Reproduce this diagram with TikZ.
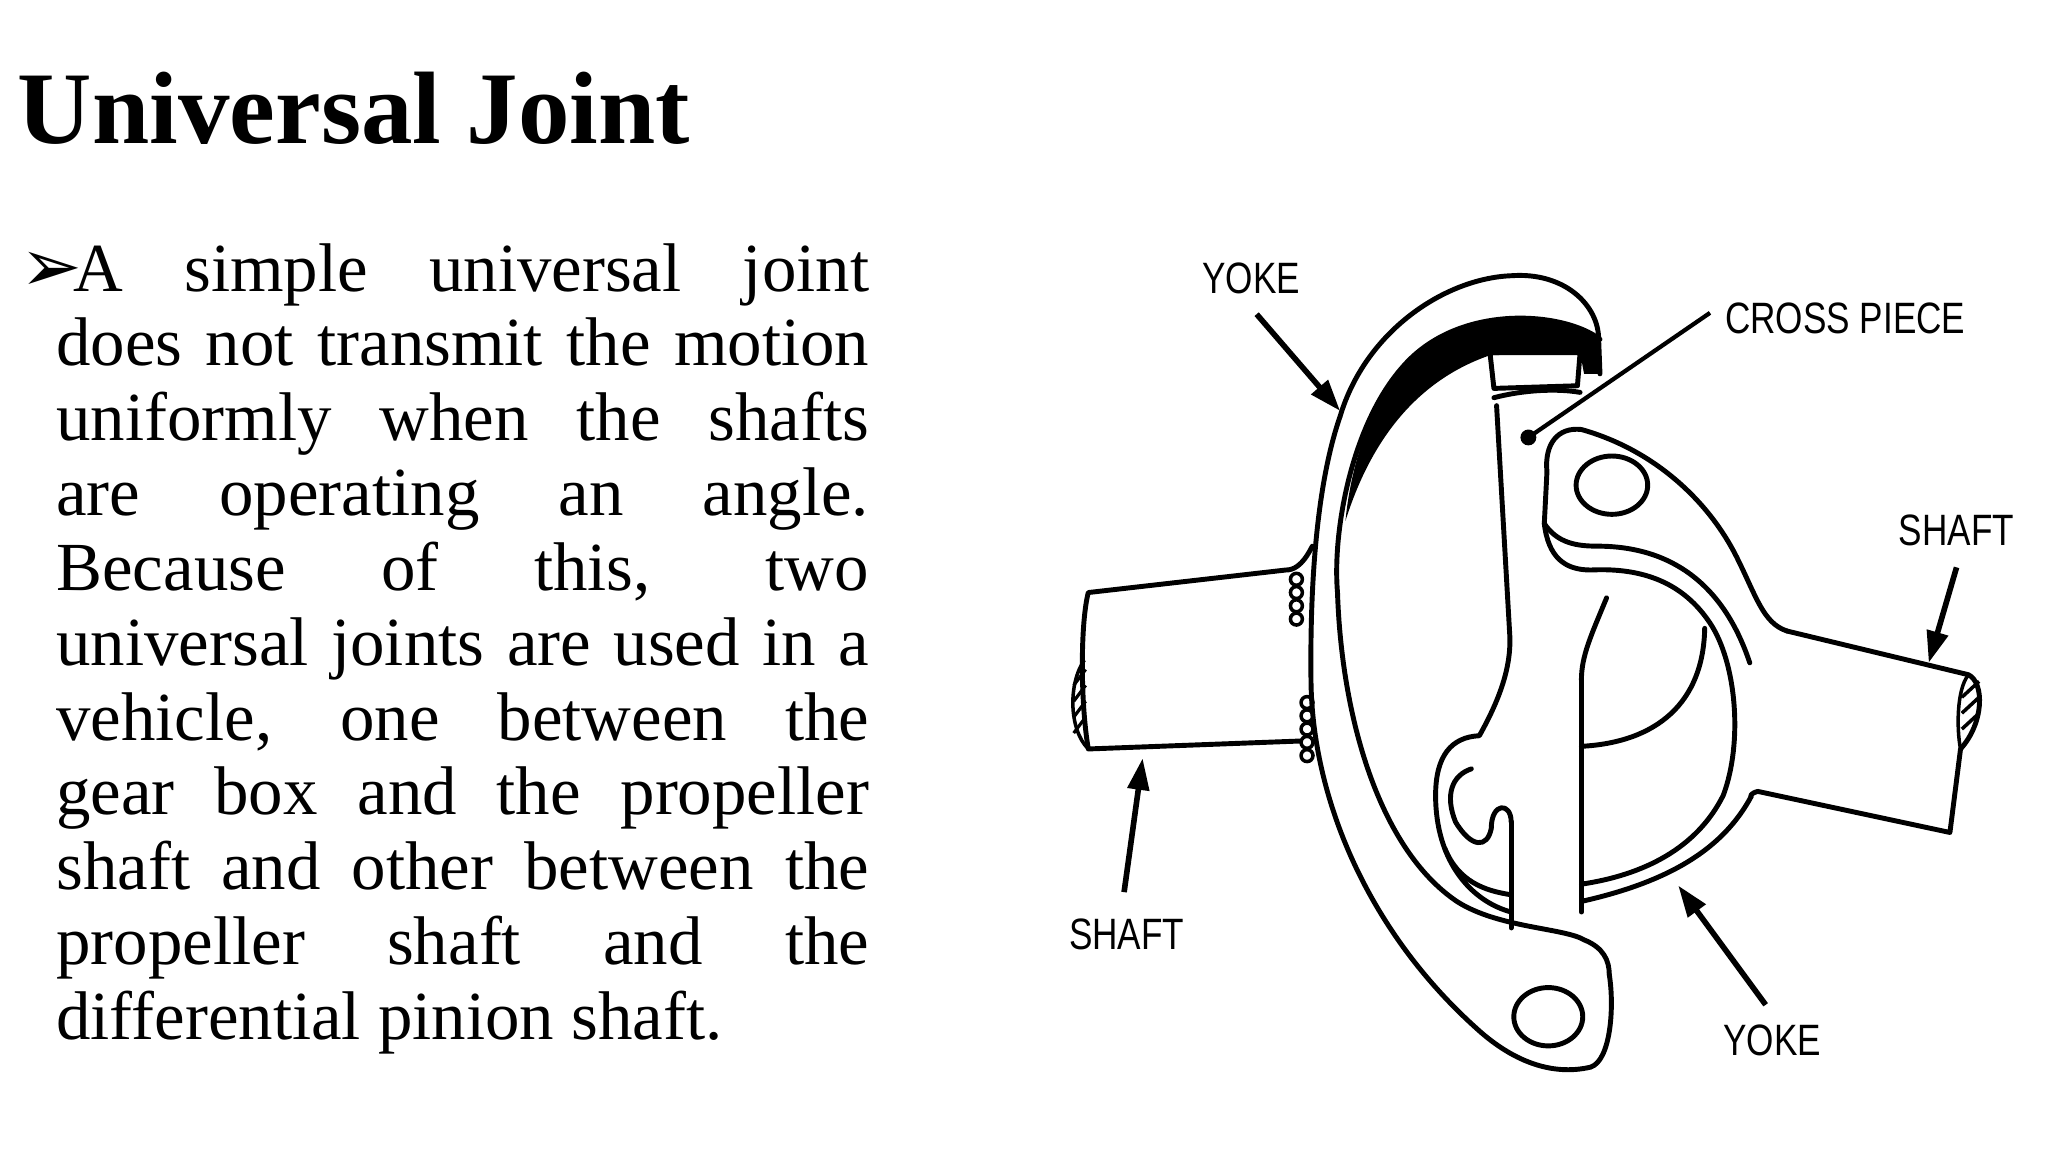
\documentclass[tikz,border=0pt]{standalone}
\usepackage{fontspec}
\setmainfont{Liberation Serif}
\newfontfamily\lab{Liberation Sans}
\newfontfamily\djfont{DejaVu Sans}
\usetikzlibrary{arrows.meta}
\begin{document}
\begin{tikzpicture}[x=0.013256cm,y=-0.013256cm,
  ln/.style={line width=1.4pt,line cap=round,line join=round},
  lbl/.style={font=\lab\fontsize{12.5}{14}\selectfont,inner sep=0},
  arr/.style={line width=1.6pt,-{Triangle[length=9pt,width=6pt]}}]
\useasboundingbox[fill=white] (0,0) rectangle (1545,869);
% text
\node[anchor=base west,inner sep=0,font=\bfseries\fontsize{29.3}{34}\selectfont] (title) at (13,108) {Universal Joint};
\node[anchor=north west,inner sep=0,text width=8.13cm,align=justify,font=\fontsize{19.6}{21.3}\selectfont] (body) at (42,183)
{\hyphenpenalty=10000\hspace*{-0.36cm}\makebox[0.53cm][l]{\djfont\fontsize{21}{21}\selectfont ➢}A simple universal joint\linebreak
does not transmit the motion\linebreak
uniformly when the shafts\linebreak
are operating an angle.\linebreak
Because of this, two\linebreak
universal joints are used in a\linebreak
vehicle, one between the\linebreak
gear box and the propeller\linebreak
shaft and other between the\linebreak
propeller shaft and the\linebreak
differential pinion shaft.};
% left shaft
\draw[ln] (990,412) .. controls (982,428) and (975,430) .. (970,430) -- (821,447) .. controls (815,470) and (815,530) .. (821,565) -- (981,559);
\draw[line width=1pt] (818,498) .. controls (806,515) and (806,550) .. (821,565);
\foreach \y in {510,522,534,546} \draw[line width=0.9pt] (810,\y+7) -- (819,\y-5);
% welds
\foreach \y in {437,447,457,467} \draw[line width=1pt] (978,\y) circle[radius=4.5];
\foreach \y in {530,540,550,560,570} \draw[line width=1pt] (986,\y) circle[radius=4.5];
% left yoke
\fill (1207,256) .. controls (1180,235) and (1100,228) .. (1058,277) .. controls (1030,310) and (1018,360) .. (1015,393) .. controls (1030,345) and (1060,290) .. (1124,268) -- (1192,266) -- (1195,282) -- (1207,282) -- cycle;
\draw[ln] (1207,256) .. controls (1180,235) and (1100,228) .. (1058,277) .. controls (1020,320) and (1005,400) .. (1009,447) .. controls (1012,540) and (1040,640) .. (1099,680) .. controls (1130,700) and (1180,700) .. (1195,709) .. controls (1210,715) and (1214,725) .. (1214,735);
\draw[ln] (1207,282) -- (1206,256) .. controls (1206,230) and (1180,205) .. (1140,208) .. controls (1090,210) and (1030,250) .. (1011,314) .. controls (995,360) and (988,430) .. (989,514) .. controls (990,600) and (1030,700) .. (1113,775) .. controls (1140,800) and (1170,812) .. (1200,805) .. controls (1215,800) and (1218,760) .. (1214,735);
\draw[ln] (1168,767) ellipse[x radius=26,y radius=22];
% cross piece
\draw[ln] (1124,266) -- (1192,266) -- (1190,291) -- (1127,293) -- cycle;
\draw[ln] (1127,300) .. controls (1150,294) and (1175,293) .. (1192,296);
\draw[ln] (1129,306) -- (1139,480) .. controls (1140,505) and (1130,530) .. (1116,555) .. controls (1095,556) and (1083,570) .. (1083,600) .. controls (1083,650) and (1110,680) .. (1140,688);
\draw[ln] (1140,620) .. controls (1140,605) and (1125,605) .. (1125,625) .. controls (1122,640) and (1110,640) .. (1098,620) .. controls (1090,600) and (1095,585) .. (1110,580);
\draw[ln] (1090,640) .. controls (1100,665) and (1120,672) .. (1140,675);
\draw[ln] (1140,620) -- (1140,700);
\draw[ln] (1193,513) -- (1193,688);
\fill (1153,330) circle[radius=6];
% right yoke
\draw[ln] (1348,476) .. controls (1330,470) and (1325,450) .. (1310,420) .. controls (1290,380) and (1250,340) .. (1193,324) .. controls (1175,322) and (1165,335) .. (1167,356) -- (1165,395) .. controls (1168,420) and (1180,430) .. (1200,430) .. controls (1240,428) and (1270,440) .. (1290,470) .. controls (1310,500) and (1315,560) .. (1300,600) .. controls (1280,640) and (1240,660) .. (1193,667);
\draw[ln] (1165,395) .. controls (1175,410) and (1190,412) .. (1205,412) .. controls (1260,412) and (1300,440) .. (1320,500);
\draw[ln] (1321,601) .. controls (1300,640) and (1260,665) .. (1193,680);
\draw[ln] (1216,366) ellipse[x radius=27,y radius=22];
\draw[ln] (1212,451) .. controls (1200,480) and (1193,495) .. (1193,513);
\draw[ln] (1286,474) .. controls (1285,530) and (1250,560) .. (1193,563);
% right shaft
\draw[ln] (1348,476) -- (1485,509) .. controls (1497,515) and (1497,545) .. (1479,565) -- (1471,628) -- (1326,597) .. controls (1322,598) and (1320,600) .. (1321,601);
\draw[line width=1pt] (1485,509) .. controls (1476,520) and (1476,550) .. (1479,565);
\foreach \y in {520,532,544} \draw[line width=1pt] (1480,\y+6) -- (1493,\y-6);
% labels and arrows
\node[lbl] (yk1) at (944,210) {\scalebox{0.8}[1]{YOKE}};
\node[lbl] (cp) at (1392,240) {\scalebox{0.8}[1]{CROSS PIECE}};
\node[lbl] (sh2) at (1476,400) {\scalebox{0.8}[1]{SHAFT}};
\node[lbl] (sh1) at (850,705) {\scalebox{0.8}[1]{SHAFT}};
\node[lbl] (yk2) at (1337,785) {\scalebox{0.8}[1]{YOKE}};
\coordinate (dot) at (1153,330);
\draw[arr] (948,237) -- (1011,310);
\draw[line width=1.2pt] (1290,236) -- (dot);
\draw[arr] (1476,428) -- (1455,500);
\draw[arr] (848,673) -- (862,572);
\draw[arr] (1332,758) -- (1266,668);
\end{tikzpicture}
\end{document}
